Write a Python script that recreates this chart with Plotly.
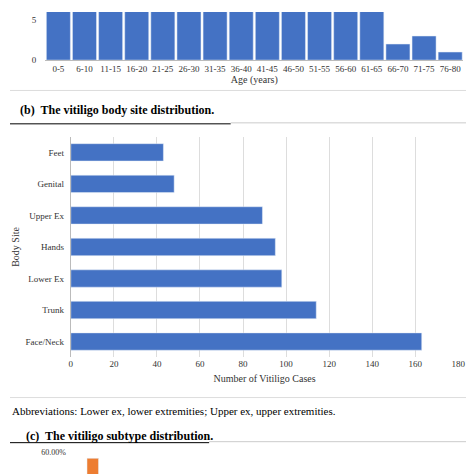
import plotly.graph_objects as go

age_groups = ["0-5","6-10","11-15","16-20","21-25","26-30","31-35","36-40","41-45","46-50","51-55","56-60","61-65","66-70","71-75","76-80"]
age_counts = [12,15,18,20,22,25,28,30,32,35,33,30,25,2,3,1]

sites = ["Face/Neck","Trunk","Lower Ex","Hands","Upper Ex","Genital","Feet"]
site_counts = [163,114,98,95,89,48,43]

subtypes = ["Nonsegmental","Segmental","Focal","Mucosal","Acrofacial","Universal"]
subtype_pct = [57.6,20,10,5,4,2]

H = 474
def py(px): return 1 - px / H
blue = "#4472C4"
F = "Liberation Serif"

fig = go.Figure()
fig.add_bar(x=age_groups, y=age_counts, marker_color=blue, xaxis="x", yaxis="y", width=0.92)
fig.add_bar(x=site_counts, y=sites, orientation="h", marker_color=blue, xaxis="x2", yaxis="y2", width=0.55)
fig.add_bar(x=subtypes, y=subtype_pct, marker_color="#ED7D31", xaxis="x3", yaxis="y3", width=0.4)

fig.update_layout(
    width=474, height=474, margin=dict(l=0, r=0, t=0, b=0),
    paper_bgcolor="white", plot_bgcolor="white", showlegend=False,
    font=dict(family=F, size=10, color="#333"),
    xaxis=dict(domain=[36/474, 462/474], anchor="y", showline=True, linecolor="#bbb",
               tickfont=dict(size=9), title=dict(text="Age (years)", font=dict(size=10), standoff=0)),
    yaxis=dict(domain=[py(49), 1], range=[0, 6], tickvals=[0, 5], showgrid=False, zeroline=False,
               tickfont=dict(size=9), ticklabelstandoff=8),
    xaxis2=dict(domain=[62/474, 457/474], anchor="y2", range=[0, 180], dtick=20, showgrid=True,
                gridcolor="#ddd", zeroline=False, tickfont=dict(size=9),
                title=dict(text="Number of Vitiligo Cases", font=dict(size=10), standoff=6)),
    yaxis2=dict(domain=[py(352), py(127)], anchor="x2", range=[-0.5, 6.5],
                showline=True, linecolor="#bbb", tickfont=dict(size=9), ticklabelstandoff=4,
                title=dict(text="Body Site", font=dict(size=10), standoff=4)),
    xaxis3=dict(domain=[58/474, 465/474], anchor="y3", range=[-0.9, 13], showticklabels=False,
                showline=False),
    yaxis3=dict(domain=[0, py(449)], anchor="x3", range=[50, 60], tickvals=[60],
                ticktext=["60.00%"], showgrid=True, gridcolor="#ddd", tickfont=dict(size=8)),
)
ann = [
    dict(text="<b>(b)  The vitiligo body site distribution.</b>", x=8/474, y=py(100), font=dict(size=12, color="black")),
    dict(text="Abbreviations: Lower ex, lower extremities; Upper ex, upper extremities.", x=0, y=py(407), font=dict(size=11, color="black")),
    dict(text="<b>(c)  The vitiligo subtype distribution.</b>", x=14/474, y=py(432), font=dict(size=12, color="black")),
]
for a in ann:
    fig.add_annotation(xref="paper", yref="paper", xanchor="left", yanchor="middle", showarrow=False, **a)
for y, xe in [(114, 225), (439, 203)]:
    fig.add_shape(type="line", xref="paper", yref="paper", x0=0, x1=xe/474, y0=py(y), y1=py(y), line=dict(color="black", width=1))
    fig.add_shape(type="line", xref="paper", yref="paper", x0=xe/474, x1=1, y0=py(y-1), y1=py(y-1), line=dict(color="#ccc", width=1))
fig.add_shape(type="line", xref="paper", yref="paper", x0=0, x1=1, y0=py(80), y1=py(80), line=dict(color="#ddd", width=1))
fig.add_shape(type="line", xref="paper", yref="paper", x0=0, x1=1, y0=py(393), y1=py(393), line=dict(color="#ddd", width=1))
fig.write_html("out.html")
